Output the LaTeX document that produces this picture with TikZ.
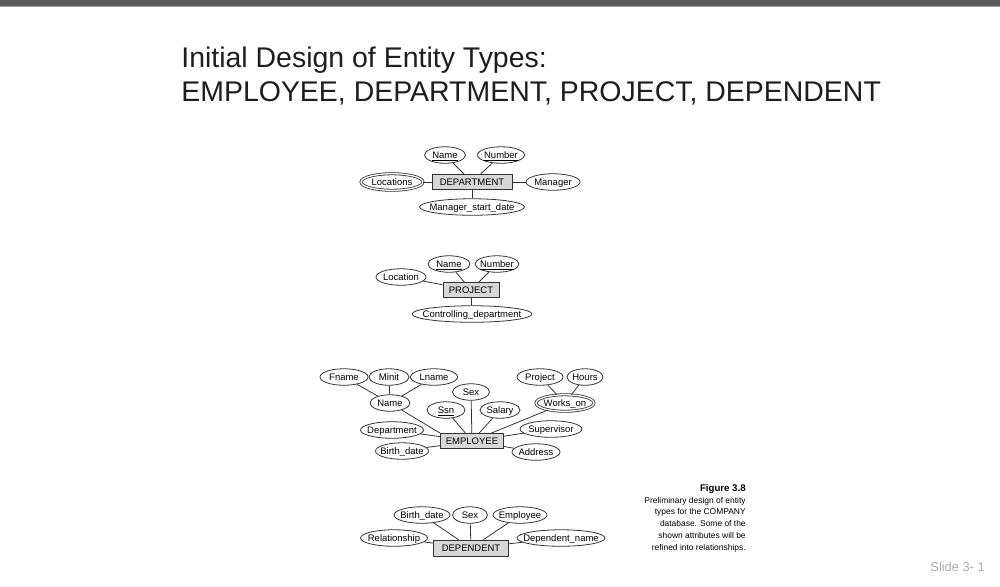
\documentclass[tikz,border=0pt]{standalone}
\usepackage{fontspec}
\setmainfont{Liberation Sans}
\usepackage{tikz}
\usetikzlibrary{shapes.geometric}
\definecolor{barGray}{RGB}{90,90,90}
\definecolor{barLine}{RGB}{160,160,160}
\definecolor{entGray}{RGB}{215,215,215}
\definecolor{slideGray}{RGB}{170,170,170}
\definecolor{titleBlack}{RGB}{30,30,30}
\definecolor{lineGray}{RGB}{50,50,50}

\begin{document}
\begin{tikzpicture}[x=0.02cm, y=-0.02cm,
    attr/.style={ellipse, draw=lineGray, line width=0.45pt, inner xsep=-30pt, inner ysep=0pt,
        minimum height=0.33cm, text height=3.9pt, text depth=0.2pt, font=\fontsize{5.4pt}{6pt}\selectfont},
    multi/.style={attr, double, double distance=0.75pt},
    entity/.style={rectangle, draw=lineGray, fill=entGray, line width=0.45pt, inner sep=0pt,
        minimum height=0.3cm, text height=3.9pt, text depth=0.2pt, font=\fontsize{5.4pt}{6pt}\selectfont},
    link/.style={draw=lineGray, line width=0.45pt}]
        \useasboundingbox (0,0) rectangle (1000,586);

        % Slide bar
        \fill[barGray] (0,0) rectangle (1000,6);
        \fill[barLine] (0,6) rectangle (1000,7);

        % Title
        \node[anchor=base west, inner sep=0pt, text=titleBlack, font=\fontsize{16.2pt}{19pt}\selectfont] (title1) at (181,67) {Initial Design of Entity Types:};
        \node[anchor=base west, inner sep=0pt, text=titleBlack, font=\fontsize{16.2pt}{19pt}\selectfont] (title2) at (181,101) {EMPLOYEE, DEPARTMENT, PROJECT, DEPENDENT};

        % DEPARTMENT
        \node[entity, minimum width=1.6cm] (dept) at (472,182) {DEPARTMENT};
        \node[attr, minimum width=0.82cm] (dName) at (445,155) {\underline{Name}};
        \node[attr, minimum width=0.94cm] (dNumber) at (501,155) {\underline{Number}};
        \node[multi, minimum width=1.24cm] (dLocations) at (392,182) {Locations};
        \node[attr, minimum width=1.08cm] (dManager) at (553,182) {Manager};
        \node[attr, minimum width=2.1cm] (dStartDate) at (472,207) {Manager\_start\_date};
        \foreach \a in {dName,dNumber,dLocations,dManager,dStartDate}
            \draw[link] (\a) -- (dept);

        % PROJECT
        \node[entity, minimum width=1.12cm] (proj) at (471,290) {PROJECT};
        \node[attr, minimum width=0.84cm] (pName) at (449,264) {\underline{Name}};
        \node[attr, minimum width=0.88cm] (pNumber) at (497,264) {\underline{Number}};
        \node[attr, minimum width=1.0cm] (pLocation) at (401,277) {Location};
        \node[attr, minimum width=2.4cm] (pCtrlDept) at (472,314) {Controlling\_department};
        \foreach \a in {pName,pNumber,pLocation,pCtrlDept}
            \draw[link] (\a) -- (proj);

        % EMPLOYEE
        \node[entity, minimum width=1.26cm] (emp) at (472,441) {EMPLOYEE};
        \node[attr, minimum width=0.96cm] (eFname) at (344,377) {Fname};
        \node[attr, minimum width=0.8cm] (eMinit) at (389,377) {Minit};
        \node[attr, minimum width=0.94cm] (eLname) at (434,377) {Lname};
        \node[attr, minimum width=0.8cm] (eName) at (390,403) {Name};
        \node[attr, minimum width=0.74cm] (eSex) at (471,392) {Sex};
        \node[attr, minimum width=0.76cm] (eSsn) at (446,410) {\underline{Ssn}};
        \node[attr, minimum width=0.8cm] (eSalary) at (500,410) {Salary};
        \node[attr, minimum width=0.92cm] (eProject) at (540,377) {Project};
        \node[attr, minimum width=0.72cm] (eHours) at (585,377) {Hours};
        \node[multi, minimum width=1.16cm] (eWorksOn) at (565,403) {Works\_on};
        \node[attr, minimum width=1.26cm] (eDept) at (392,430) {Department};
        \node[attr, minimum width=1.24cm] (eSuper) at (551,429) {Supervisor};
        \node[attr, minimum width=1.06cm] (eBdate) at (402,451) {Birth\_date};
        \node[attr, minimum width=0.96cm] (eAddress) at (536,452) {Address};
        \foreach \a in {eFname,eMinit,eLname}
            \draw[link] (\a) -- (eName);
        \foreach \a in {eProject,eHours}
            \draw[link] (\a) -- (eWorksOn);
        \draw[link] (eName) -- (emp.north west);
        \foreach \a in {eSex,eSsn,eSalary,eWorksOn,eDept,eSuper,eBdate,eAddress}
            \draw[link] (\a) -- (emp);

        % DEPENDENT
        \node[entity, minimum width=1.5cm, minimum height=0.32cm] (dep) at (471,548) {DEPENDENT};
        \node[attr, minimum width=1.12cm] (kBdate) at (422,515) {Birth\_date};
        \node[attr, minimum width=0.7cm] (kSex) at (470,515) {Sex};
        \node[attr, minimum width=1.08cm] (kEmployee) at (520,515) {Employee};
        \node[attr, minimum width=1.34cm] (kRel) at (394,538) {Relationship};
        \node[attr, minimum width=1.76cm] (kDepName) at (561,538) {Dependent\_name};
        \foreach \a in {kBdate,kSex,kEmployee,kRel,kDepName}
            \draw[link] (\a) -- (dep);

        % Caption
        \node[anchor=north east, align=right, inner sep=0pt, font=\fontsize{4.8pt}{6.7pt}\selectfont] (caption) at (746,484)
            {{\bfseries\fontsize{5.5pt}{6.7pt}\selectfont Figure 3.8}\\Preliminary design of entity\\types for the COMPANY\\database. Some of the\\shown attributes will be\\refined into relationships.};

        % Slide number
        \node[anchor=base east, inner sep=0pt, text=slideGray, font=\fontsize{7.3pt}{8pt}\selectfont] (slideNo) at (985,571) {Slide 3- 1};
\end{tikzpicture}
\end{document}
